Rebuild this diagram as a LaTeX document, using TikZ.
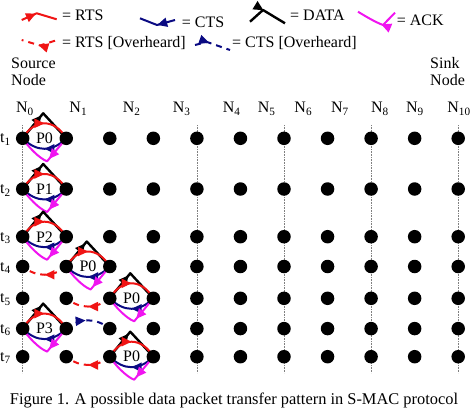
\documentclass[tikz,border=0pt]{standalone}
\usepackage{fontspec}
\setmainfont{Liberation Serif}
\usetikzlibrary{arrows.meta,decorations.markings,calc}
\pgfdeclarelayer{bg}
\pgfsetlayers{bg,main}
\definecolor{rtsred}{RGB}{240,20,20}
\definecolor{ctsblue}{RGB}{10,10,130}
\definecolor{ackmag}{RGB}{240,20,240}
\tikzset{
  dot/.style={circle,fill=black,minimum size=13.5pt,inner sep=0pt},
  arr/.style={postaction={decorate},decoration={markings,mark=at position #1 with {\arrow{Triangle[length=10pt,width=9pt]}}}},
  datal/.style={black,line width=2.4pt,line join=round,arr=#1}, datal/.default=0.45,
  rtsl/.style={rtsred,line width=2pt,line join=round,arr=#1}, rtsl/.default=0.5,
  ctsl/.style={ctsblue,line width=2pt,line join=round,arr=#1}, ctsl/.default=0.5,
  ackl/.style={ackmag,line width=2pt,line join=round,arr=#1}, ackl/.default=0.42,
  ovh/.style={dash pattern=on 6pt off 5pt},
  vgrid/.style={gray,line width=0.6pt,densely dotted},
  lbl/.style={inner sep=0pt,anchor=base west,font=\fontsize{16}{18}\selectfont},
  txt/.style={inner sep=0pt,font=\fontsize{16}{18}\selectfont},
  plbl/.style={inner sep=0pt,font=\fontsize{16}{18}\selectfont},
}
\newcommand{\pktx}[3]{%
  \begin{pgfonlayer}{bg}
  \draw[datal] (#1.center) -- ($(#1)!0.47!(#2)+(0,25)$) -- (#2.center);
  \draw[rtsl] (#1.center) .. controls +(12,20) and +(-12,20) .. (#2.center);
  \draw[ctsl] (#2.center) .. controls +(-14,-14) and +(14,-14) .. (#1.center);
  \draw[ackl] (#2.center) -- ($(#1)!0.56!(#2)+(0,-23)$) .. controls +(-8,3) and +(5,-8) .. (#1.center);
  \end{pgfonlayer}
  \node[plbl] (p#1) at ($(#1)!0.5!(#2)$) {#3};
}
\begin{document}
\begin{tikzpicture}[x=1pt,y=1pt]
\useasboundingbox (0,0) rectangle (474,-408);
% legend
\draw[rtsl=0.42] (21.7,-20) -- (36.7,-13.3) -- (56.7,-19.3);
\node[lbl] (lrts) at (62,-20.7) {= RTS};
\draw[ctsl=0.5] (175,-20) -- (157,-25) -- (140,-18.3);
\node[lbl] (lcts) at (181.7,-27.3) {= CTS};
\draw[datal=0.42] (250,-21.7) -- (263,-10) -- (285,-23.3);
\node[lbl] (ldata) at (290,-20) {= DATA};
\draw[ackl=0.42] (395,-12.7) -- (383,-25) .. controls (375,-22) and (365,-16) .. (358,-11.7);
\node[lbl] (lack) at (396.7,-25) {= ACK};
\draw[rtsl=0.5,ovh] (55,-40.7) -- (40,-45.5) -- (21.7,-40);
\node[lbl] (lrtso) at (62,-47.7) {= RTS [Overheard]};
\draw[ctsl=0.4,ovh] (195,-45) -- (207,-42) -- (230,-50);
\node[lbl] (lctso) at (232,-47) {= CTS [Overheard]};
% header
\node[txt,anchor=base west] (src1) at (11,-68.3) {Source};
\node[txt,anchor=base west] (src2) at (11,-85) {Node};
\node[txt,anchor=base west] (snk1) at (430,-68.3) {Sink};
\node[txt,anchor=base west] (snk2) at (430,-85) {Node};
\foreach \c/\x in {0/25,1/78.3,2/131.7,3/181.7,4/231.7,5/266.7,6/303.3,7/340,8/380,9/415,10/459}
  \node[txt,anchor=base] (h\c) at (\x,-112.7) {N\textsubscript{\c}};
% grid of nodes
\foreach \r/\y in {1/138.3,2/189,3/236.7,4/266.5,5/298.3,6/328.6,7/356.7}{
  \node[txt,anchor=base west] (t\r) at (0,-\y-4.5) {t\textsubscript{\r}};
  \foreach \c in {0,...,10}
    \node[dot] (n\c r\r) at ({22.7+43.55*\c},-\y) {};
}
% dotted time lines
\foreach \c in {0,4,6,8,10}{
  \coordinate (top\c) at ({22.7+43.55*\c},-125);
  \coordinate (bot\c) at ({22.7+43.55*\c},-373);
  \begin{pgfonlayer}{bg}
  \draw[vgrid] (top\c) -- (bot\c);
  \end{pgfonlayer}
}
% exchanges
\pktx{n0r1}{n1r1}{P0}
\pktx{n0r2}{n1r2}{P1}
\pktx{n0r3}{n1r3}{P2}
\pktx{n1r4}{n2r4}{P0}
\pktx{n2r5}{n3r5}{P0}
\pktx{n0r6}{n1r6}{P3}
\pktx{n2r7}{n3r7}{P0}
% overheard
\begin{pgfonlayer}{bg}
\draw[rtsl,ovh] (n1r4.center) .. controls +(-14,-11) and +(14,-11) .. (n0r4.center);
\draw[rtsl,ovh] (n2r5.center) .. controls +(-14,-11) and +(14,-11) .. (n1r5.center);
\draw[ctsl=0.45,ovh] (n1r6.center) .. controls +(14,11) and +(-14,11) .. (n2r6.center);
\draw[rtsl,ovh] (n2r7.center) .. controls +(-14,-11) and +(14,-11) .. (n1r7.center);
\end{pgfonlayer}
% caption
\node[inner sep=0pt,anchor=base,font=\fontsize{16.4}{18}\selectfont] (cap) at (234,-404) {Figure 1. A possible data packet transfer pattern in S-MAC protocol};
\end{tikzpicture}
\end{document}
